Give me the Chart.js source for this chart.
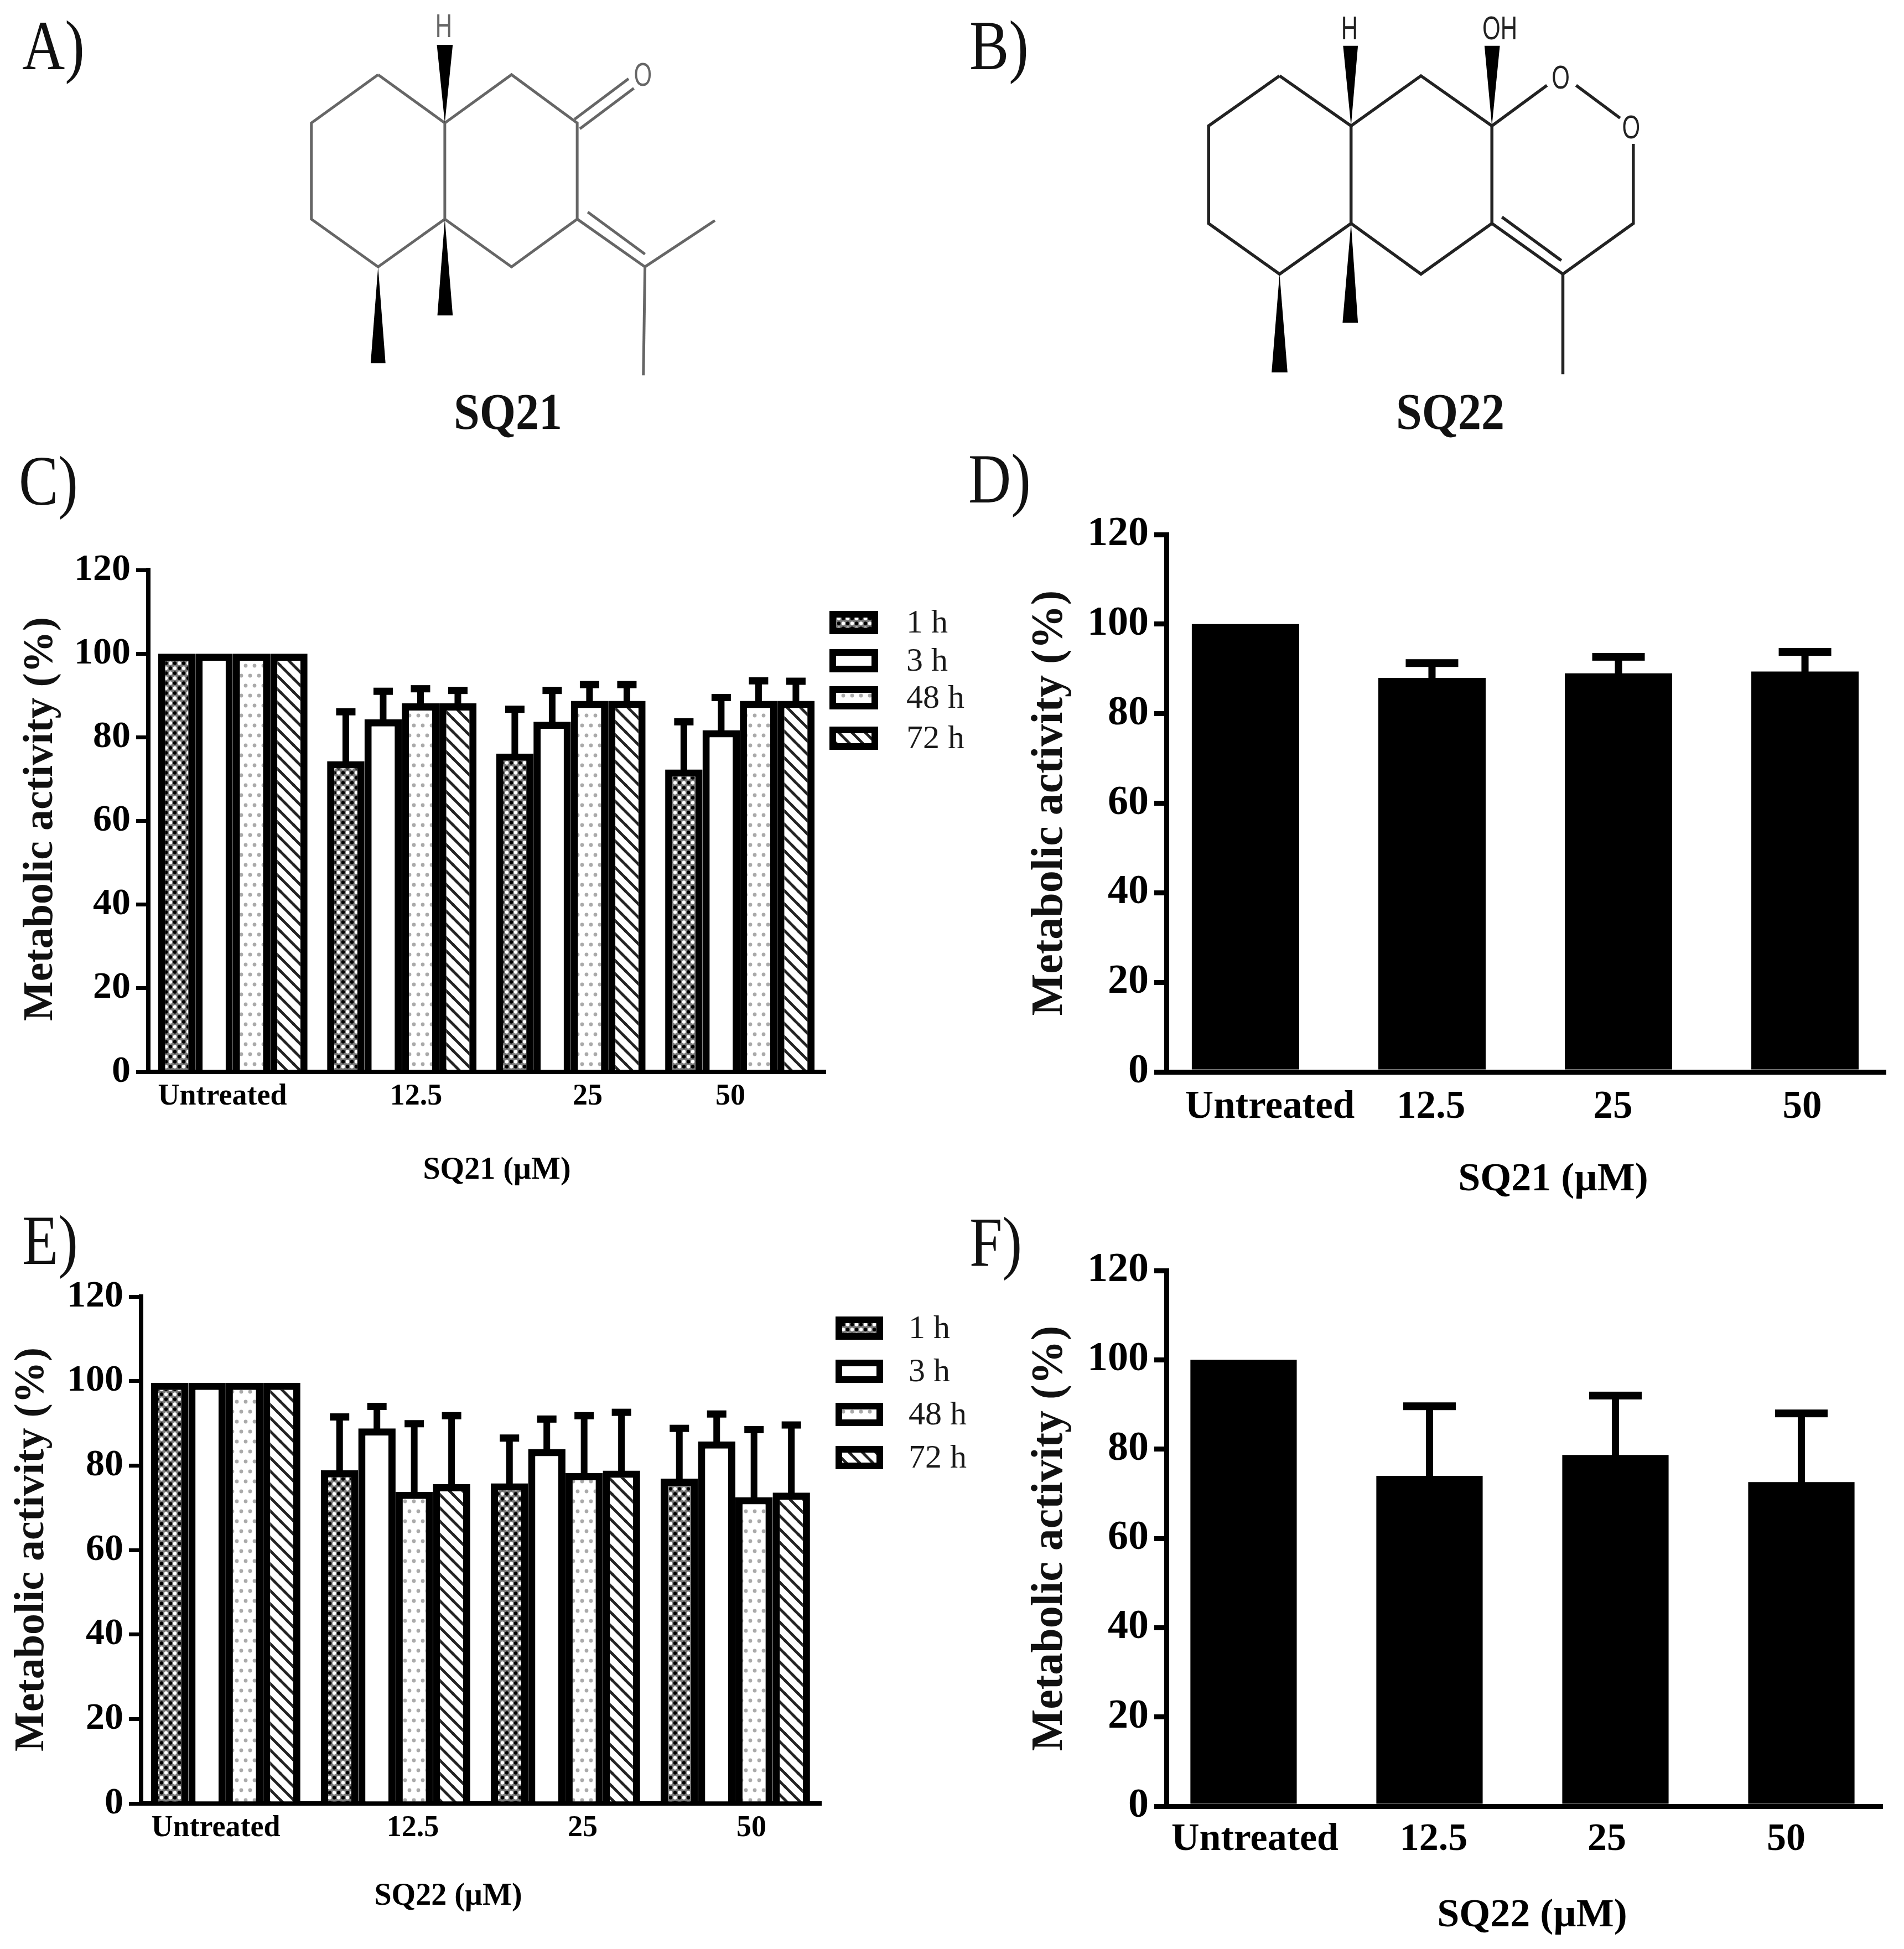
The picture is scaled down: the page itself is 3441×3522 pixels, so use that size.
<!DOCTYPE html>
<html>
<head>
<meta charset="utf-8">
<title>SQ21 and SQ22 metabolic activity</title>
<script src="https://cdn.jsdelivr.net/npm/chart.js@4"></script>
<style>
html,body{margin:0;padding:0;background:#fff;}
#page{position:relative;width:3441px;height:3522px;overflow:hidden;background:#fff;}
#art{position:absolute;left:0;top:0;}
canvas{position:absolute;}
</style>
</head>
<body>
<div id="page">
<svg id="art" width="3441" height="3522" xmlns="http://www.w3.org/2000/svg"></svg>
<canvas id="chartC"></canvas>
<canvas id="chartD"></canvas>
<canvas id="chartE"></canvas>
<canvas id="chartF"></canvas>
</div>
<script>
// ---------- data ----------
const categories = ['Untreated', '12.5', '25', '50'];
const hourLabels = ['1 h', '3 h', '48 h', '72 h'];
const yTicksMax = 120;
const yTickStep = 20;

const sq21Hour1  = [100, 74.3, 76.1, 72.3];
const sq21Hour3  = [100, 84.3, 83.7, 81.7];
const sq21Hour48 = [100, 88.1, 88.7, 88.7];
const sq21Hour72 = [100, 88.1, 88.7, 88.7];
const sq21Hour1Upper  = [null, 86.1, 86.7, 83.7];
const sq21Hour3Upper  = [null, 91.0, 91.2, 89.5];
const sq21Hour48Upper = [null, 91.6, 92.6, 93.5];
const sq21Hour72Upper = [null, 91.2, 92.6, 93.4];

const sq22Hour1  = [99.6, 78.9, 75.8, 76.9];
const sq22Hour3  = [99.6, 88.8, 83.9, 85.7];
const sq22Hour48 = [99.6, 73.8, 78.2, 72.5];
const sq22Hour72 = [99.6, 75.6, 78.8, 73.6];
const sq22Hour1Upper  = [null, 91.5, 86.5, 88.8];
const sq22Hour3Upper  = [null, 94.0, 91.0, 92.2];
const sq22Hour48Upper = [null, 89.9, 91.8, 88.5];
const sq22Hour72Upper = [null, 91.8, 92.6, 89.6];

const sq21Mean = [100, 88.0, 89.0, 89.4];
const sq21MeanUpper = [null, 91.3, 92.7, 93.8];
const sq22Mean = [100, 74.0, 78.7, 72.6];
const sq22MeanUpper = [null, 89.6, 92.0, 88.0];

// ---------- fill patterns ----------
function tile(w, h, paint) {
  const c = document.createElement('canvas');
  c.width = w; c.height = h;
  const g = c.getContext('2d');
  paint(g);
  return g.createPattern(c, 'repeat');
}
function dot(g, x, y, r, col) { g.fillStyle = col; g.beginPath(); g.arc(x, y, r, 0, Math.PI * 2); g.fill(); }
const patternDense = tile(16, 18, g => {
  g.fillStyle = '#7a7a7a'; g.fillRect(0, 0, 16, 18);
  dot(g, 4, 4.5, 3.2, '#fff'); dot(g, 12, 13.5, 3.2, '#fff');
  dot(g, 12, 4.5, 3.2, '#000'); dot(g, 4, 13.5, 3.2, '#000');
});
const patternSparse = tile(16, 36, g => {
  g.fillStyle = '#fff'; g.fillRect(0, 0, 16, 36);
  dot(g, 4, 9, 3.4, '#aaa'); dot(g, 12, 27, 3.4, '#aaa');
});
const patternStripes = tile(24, 24, g => {
  g.fillStyle = '#fff'; g.fillRect(0, 0, 24, 24);
  g.strokeStyle = '#222'; g.lineWidth = 5;
  [[-24, -24], [0, 0], [0, -24], [-24, 0]].forEach(([x, y]) => {
    g.beginPath(); g.moveTo(x - 4, y - 4); g.lineTo(x + 28, y + 28); g.stroke();
  });
});
const hourFills = [patternDense, '#fff', patternSparse, patternStripes];

// ---------- panel builder ----------
function buildPanel(s) {
  const canvas = document.getElementById(s.id);
  const [cx0, cy0, cx1, cy1] = s.canvas;
  canvas.width = cx1 - cx0; canvas.height = cy1 - cy0;
  canvas.style.left = cx0 + 'px'; canvas.style.top = cy0 + 'px';

  const panelPlugin = {
    id: 'panel' + s.id,
    beforeDraw(chart) {
      if (chart.$placed) return;
      chart.$placed = true;
      const ctx = chart.ctx;
      const xs = chart.scales.x, ys = chart.scales.y;
      // tick labels sit slightly off the groups in the original
      xs.getLabelItems(chart.chartArea).forEach((item, i) => {
        item.options.translation[0] = s.labelX[i] - cx0;
        item.options.translation[1] = s.labelY - cy0;
        item.options.textBaseline = 'middle';
        item.textOffset = 0;
      });
      const shift = (scale, dx, dy) => {
        const orig = scale.drawTitle.bind(scale);
        scale.drawTitle = function () { ctx.save(); ctx.translate(dx, dy); orig(); ctx.restore(); };
      };
      shift(xs, s.xTitle[0] - cx0 - (xs.left + xs.right) / 2, s.xTitle[1] - cy0 - (xs.bottom - s.xTitleSize / 2));
      shift(ys, s.yTitle[0] - cx0 - (ys.left + s.yTitleSize / 2), s.yTitle[1] - cy0 - (ys.top + ys.bottom) / 2);
    },
    afterDatasetsDraw(chart) {
      const ctx = chart.ctx, ys = chart.scales.y;
      ctx.save();
      ctx.fillStyle = '#000';
      chart.data.datasets.forEach((ds, di) => {
        const meta = chart.getDatasetMeta(di);
        (ds.upper || []).forEach((u, i) => {
          if (u == null) return;
          const bar = meta.data[i];
          const yu = ys.getPixelForValue(u);
          ctx.fillRect(bar.x - s.stem / 2, yu, s.stem, bar.y - yu + 1);
          ctx.fillRect(bar.x - s.cap / 2, yu - s.capT / 2, s.cap, s.capT);
        });
      });
      if (s.legend) {
        const L = s.legend;
        chart.data.datasets.forEach((ds, i) => {
          const y = L.rows[i] - cy0;
          const x = L.x - cx0;
          ctx.fillStyle = '#000';
          ctx.fillRect(x, y - L.h / 2, L.w, L.h);
          ctx.fillStyle = ds.backgroundColor;
          ctx.fillRect(x + L.b, y - L.h / 2 + L.b, L.w - 2 * L.b, L.h - 2 * L.b);
          ctx.fillStyle = '#1a1a1a';
          ctx.font = L.font + 'px "Liberation Serif"';
          ctx.textBaseline = 'middle';
          ctx.textAlign = 'left';
          ctx.fillText(ds.label, L.textX - cx0, y + 2);
        });
      }
      ctx.restore();
    }
  };

  return new Chart(canvas, {
    type: 'bar',
    data: {
      datasets: s.series.map(d => ({
        label: d.label,
        data: categories.map((c, i) => ({ x: i, y: d.values[i] })),
        upper: d.upper,
        backgroundColor: d.fill,
        borderColor: '#000',
        borderWidth: s.barBorder,
        borderSkipped: 'bottom',
        barPercentage: 1,
        categoryPercentage: s.groupFrac
      }))
    },
    options: {
      responsive: false,
      animation: false,
      devicePixelRatio: 1,
      layout: { padding: { top: s.plot[1] - cy0, right: cx1 - s.plot[2], left: 0, bottom: 0 } },
      plugins: { legend: { display: false }, tooltip: { enabled: false } },
      scales: {
        x: {
          type: 'linear',
          offset: false,
          min: s.xRange[0], max: s.xRange[1],
          afterBuildTicks(scale) { scale.ticks = categories.map((c, i) => ({ value: i })); },
          afterFit(scale) { scale.height = cy1 - s.plot[3]; },
          grid: { display: false, drawTicks: false, offset: false },
          border: { display: true, color: '#000', width: s.axisW },
          ticks: {
            autoSkip: false, maxRotation: 0, minRotation: 0, color: '#000',
            font: { family: 'Liberation Serif', weight: 'bold', size: s.catFont },
            callback: v => categories[v]
          },
          title: {
            display: true, text: s.xTitleText, color: '#000', padding: 0,
            font: { family: 'Liberation Serif', weight: 'bold', size: s.xTitleSize, lineHeight: 1 }
          }
        },
        y: {
          min: 0, max: yTicksMax,
          afterFit(scale) { scale.width = s.plot[0] - cx0; },
          grid: { drawOnChartArea: false, drawTicks: true, tickLength: 22, lineWidth: s.tickW, color: '#000' },
          border: { display: true, color: '#000', width: s.axisW },
          ticks: {
            stepSize: yTickStep, color: '#000', padding: 10,
            font: { family: 'Liberation Serif', weight: 'bold', size: s.yFont }
          },
          title: {
            display: true, text: 'Metabolic activity (%)', color: '#111', padding: 0,
            font: { family: 'Liberation Serif', weight: 'bold', size: s.yTitleSize, lineHeight: 1 }
          }
        }
      }
    },
    plugins: [panelPlugin]
  });
}

function hourly(vals, uppers) {
  return hourLabels.map((label, i) => ({ label, values: vals[i], upper: uppers[i], fill: hourFills[i] }));
}

buildPanel({
  id: 'chartC', canvas: [0, 960, 1760, 2180], plot: [268, 1030, 1492, 1937],
  xRange: [-0.5, 3.507], groupFrac: 0.884, barBorder: 13, axisW: 8, tickW: 7,
  stem: 12, cap: 35, capT: 13, catFont: 54, yFont: 68, yTitleSize: 76, xTitleSize: 56,
  labelX: [402, 752, 1062, 1320], labelY: 1982, xTitle: [898, 2116], yTitle: [74, 1480], xTitleText: 'SQ21 (µM)',
  series: hourly([sq21Hour1, sq21Hour3, sq21Hour48, sq21Hour72], [sq21Hour1Upper, sq21Hour3Upper, sq21Hour48Upper, sq21Hour72Upper]),
  legend: { x: 1499, w: 88, h: 42, b: 12, rows: [1125, 1194, 1261, 1334], textX: 1638, font: 60 }
});
buildPanel({
  id: 'chartE', canvas: [0, 2290, 1760, 3522], plot: [255, 2343, 1484, 3259],
  xRange: [-0.498, 3.505], groupFrac: 0.879, barBorder: 13, axisW: 8, tickW: 7,
  stem: 12, cap: 35, capT: 13, catFont: 54, yFont: 68, yTitleSize: 76, xTitleSize: 56,
  labelX: [390, 746, 1053, 1358], labelY: 3304, xTitle: [810, 3428], yTitle: [58, 2800], xTitleText: 'SQ22 (µM)',
  series: hourly([sq22Hour1, sq22Hour3, sq22Hour48, sq22Hour72], [sq22Hour1Upper, sq22Hour3Upper, sq22Hour48Upper, sq22Hour72Upper]),
  legend: { x: 1510, w: 86, h: 42, b: 12, rows: [2400, 2478, 2556, 2634], textX: 1642, font: 60 }
});
buildPanel({
  id: 'chartD', canvas: [1762, 910, 3441, 2180], plot: [2108, 966, 3408, 1937],
  xRange: [-0.424, 3.433], groupFrac: 0.5757, barBorder: 0, axisW: 9, tickW: 9,
  stem: 13, cap: 95, capT: 14, catFont: 71, yFont: 74, yTitleSize: 80, xTitleSize: 72,
  labelX: [2295, 2586, 2915, 3257], labelY: 2002, xTitle: [2807, 2132], yTitle: [1898, 1451], xTitleText: 'SQ21 (µM)',
  series: [{ label: 'SQ21', values: sq21Mean, upper: sq21MeanUpper, fill: '#000' }]
});
buildPanel({
  id: 'chartF', canvas: [1762, 2200, 3441, 3522], plot: [2108, 2296, 3402, 3264],
  xRange: [-0.415, 3.436], groupFrac: 0.572, barBorder: 0, axisW: 9, tickW: 9,
  stem: 13, cap: 95, capT: 14, catFont: 70, yFont: 74, yTitleSize: 80, xTitleSize: 72,
  labelX: [2268, 2591, 2904, 3228], labelY: 3325, xTitle: [2769, 3462], yTitle: [1898, 2780], xTitleText: 'SQ22 (µM)',
  series: [{ label: 'SQ22', values: sq22Mean, upper: sq22MeanUpper, fill: '#000' }]
});

// ---------- panel letters, compound names and structure drawings ----------
const NS = 'http://www.w3.org/2000/svg';
const art = document.getElementById('art');
function el(name, attrs, text) {
  const e = document.createElementNS(NS, name);
  Object.entries(attrs).forEach(([k, v]) => e.setAttribute(k, v));
  if (text) e.textContent = text;
  art.appendChild(e);
}
function stretchedText(str, x, baseline, size, sy, extra) {
  el('text', Object.assign({
    transform: `translate(${x} ${baseline}) scale(1 ${sy})`,
    'font-family': 'Liberation Serif', 'font-size': size, fill: '#111'
  }, extra || {}), str);
}
stretchedText('A)', 40, 125, 107, 1.18);
stretchedText('B)', 1752, 125, 107, 1.18);
stretchedText('C)', 34, 912, 107, 1.18);
stretchedText('D)', 1750, 908, 107, 1.18);
stretchedText('E)', 40, 2284, 107, 1.18);
stretchedText('F)', 1752, 2287, 107, 1.18);
stretchedText('SQ21', 820, 775, 84, 1.1, { 'font-weight': 'bold' });
stretchedText('SQ22', 2523, 775, 84, 1.1, { 'font-weight': 'bold' });

function molecule(ox, bonds, wedges, labels, color, width) {
  const X = v => ox + v * 0.957, Y = v => v * 0.523;
  bonds.forEach(pts => el('polyline', {
    points: pts.map(p => X(p[0]) + ',' + Y(p[1])).join(' '),
    fill: 'none', stroke: color, 'stroke-width': width, 'stroke-linejoin': 'miter'
  }));
  wedges.forEach(w => el('polygon', {
    points: `${X(w[0])},${Y(w[1])} ${X(w[2])},${Y(w[3])} ${X(w[4])},${Y(w[3])}`, fill: '#000'
  }));
  labels.forEach(l => el('text', {
    transform: `translate(${X(l[1])} ${Y(l[2])}) scale(1 1.4)`,
    'font-family': 'Liberation Sans', 'font-size': 42, fill: color, 'text-anchor': 'middle'
  }, l[0]));
}
molecule(0,
  [[[714,258],[840,425],[840,757],[714,922],[588,757],[588,425],[714,258]],
   [[840,425],[966,258],[1090,425],[1090,757],[966,922],[840,757]],
   [[1085,412],[1187,272]], [[1095,445],[1197,305]],
   [[1090,757],[1218,922]], [[1110,733],[1218,878]],
   [[1218,922],[1350,762]], [[1218,922],[1215,1297]]],
  [[840,425,825,155,855],[840,757,826,1090,855],[714,922,700,1255,728]],
  [['H',838,128],['O',1214,296]], '#666', 5);
molecule(1700,
  [[[640,262],[775,435],[775,772],[640,947],[506,772],[506,435],[640,262]],
   [[775,435],[907,262],[1041,435],[1041,772],[907,947],[775,772]],
   [[1041,435],[1145,295]], [[1200,295],[1283,408]],
   [[1308,497],[1308,772],[1175,947]],
   [[1041,772],[1175,947]], [[1060,750],[1172,900]],
   [[1175,947],[1175,1293]]],
  [[775,435,760,158,788],[1041,435,1027,158,1056],[775,772,759,1115,788],[640,947,625,1287,655]],
  [['H',772,135],['OH',1056,135],['O',1171,306],['O',1304,478]], '#222', 5.5);
</script>
</body>
</html>
